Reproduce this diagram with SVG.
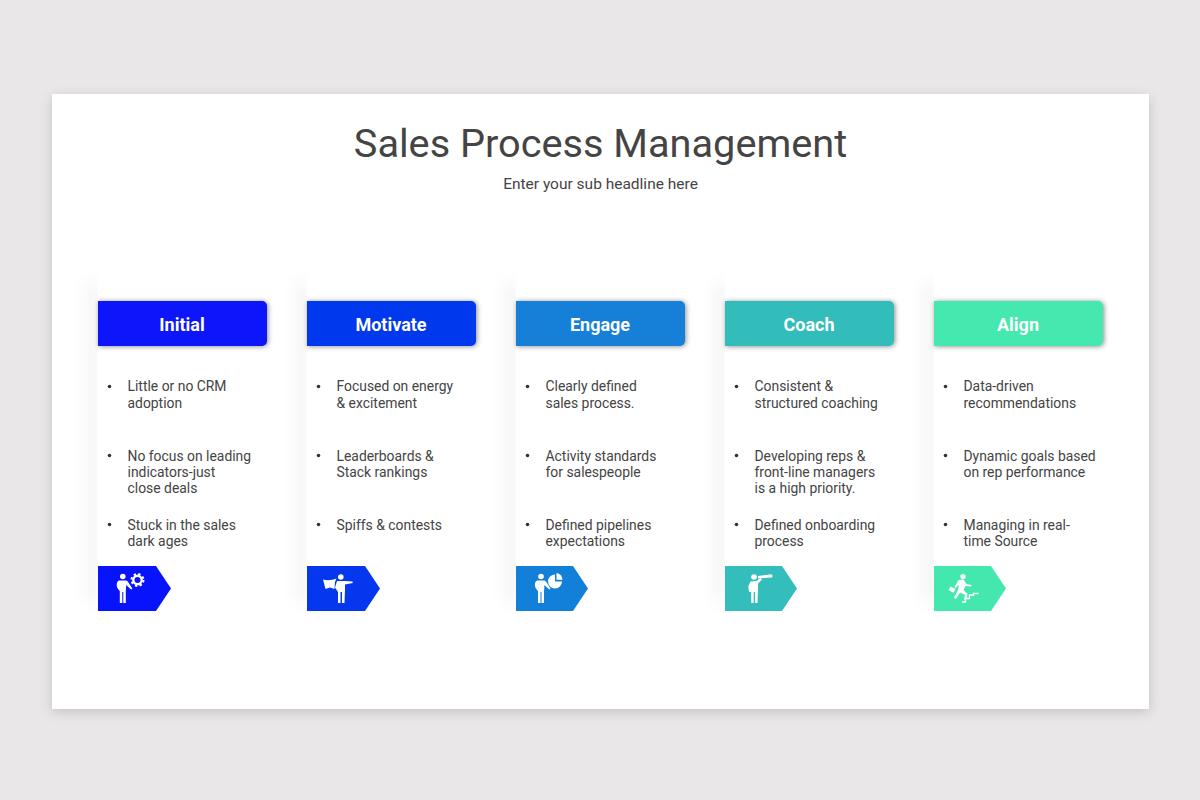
<svg xmlns="http://www.w3.org/2000/svg" xmlns:xlink="http://www.w3.org/1999/xlink" width="1200" height="800" viewBox="0 0 1200 800">
<defs>
<filter id="panelShadow" x="-5%" y="-5%" width="110%" height="112%"><feDropShadow dx="0" dy="3" stdDeviation="6" flood-color="#000" flood-opacity="0.16"/></filter>
<filter id="fade" x="-20%" y="-10%" width="140%" height="120%"><feGaussianBlur stdDeviation="3 8"/></filter>
<filter id="headShadow" x="-10%" y="-30%" width="120%" height="160%"><feDropShadow dx="1" dy="0.500" stdDeviation="2.800" flood-color="#000" flood-opacity="0.45"/></filter>
<linearGradient id="sideShade" x1="0" x2="1" y1="0" y2="0"><stop offset="0" stop-color="#000" stop-opacity="0"/><stop offset="1" stop-color="#000" stop-opacity="0.04"/></linearGradient>
<style>
text{font-family:Roboto,"Liberation Sans",sans-serif;fill:#444}
.title{font-size:39.700px;text-anchor:middle}
.sub{font-size:15.500px;text-anchor:middle}
.head{font-size:18px;font-weight:700;fill:#fff;text-anchor:middle}
.b{font-size:13.900px}
.dot{fill:#333}
.ic{fill:#fff}
.shade{fill:url(#sideShade)}
</style>
<g id="person"><circle cx="0" cy="-11.500" r="2.800"/><path d="M-3.800-7.500H3.500L5-6.500 9.500 0.500 8.300 1.500 3.300-3V0L3 3V15H.5V4H-.5V15H-3V3C-5.500 1-6.500-2-6-4.500-5.800-6-5-7-3.800-7.500Z"/></g>
</defs>
<rect width="1200" height="800" fill="#e9e7e8"/>
<rect x="52" y="94" width="1097" height="615" fill="#fff" filter="url(#panelShadow)"/>
<text class="title" x="600.500" y="156.500">Sales Process Management</text>
<text class="sub" x="600.500" y="189">Enter your sub headline here</text>

<g id="col-initial">
<rect class="shade" x="76" y="282" width="22" height="320" filter="url(#fade)"/>
<rect x="98" y="270" width="180" height="345" fill="#fff"/>
<path d="M98 301H262a5 5 0 0 1 5 5V341a5 5 0 0 1-5 5H98Z" fill="#0713fb" filter="url(#headShadow)"/>
<text class="head" x="182" y="331">Initial</text>
<circle class="dot" cx="109.500" cy="386.500" r="1.800"/><text class="b" x="127.500" y="391.300">Little or no CRM</text><text class="b" x="127.500" y="408">adoption</text>
<circle class="dot" cx="109.500" cy="455.500" r="1.800"/><text class="b" x="127.500" y="461">No focus on leading</text><text class="b" x="127.500" y="477.300">indicators-just</text><text class="b" x="127.500" y="493.300">close deals</text>
<circle class="dot" cx="109.500" cy="524.500" r="1.800"/><text class="b" x="127.500" y="530">Stuck in the sales</text><text class="b" x="127.500" y="546.300">dark ages</text>
<path d="M98 566H156L171 588.500 156 611H98Z" fill="#0713fb"/>
<g class="ic"><use xlink:href="#person" href="#person" x="122.800" y="588"/>
<circle cx="137.500" cy="580" r="4.200" fill="none" stroke="#fff" stroke-width="2.400"/><circle cx="137.500" cy="580" r="6" fill="none" stroke="#fff" stroke-width="2" stroke-dasharray="2.360 2.360"/></g>
</g>

<g id="col-motivate">
<rect class="shade" x="285" y="282" width="22" height="320" filter="url(#fade)"/>
<rect x="307" y="270" width="180" height="345" fill="#fff"/>
<path d="M307 301H471a5 5 0 0 1 5 5V341a5 5 0 0 1-5 5H307Z" fill="#0538ee" filter="url(#headShadow)"/>
<text class="head" x="391" y="331">Motivate</text>
<circle class="dot" cx="318.500" cy="386.500" r="1.800"/><text class="b" x="336.500" y="391.300">Focused on energy</text><text class="b" x="336.500" y="408">&amp; excitement</text>
<circle class="dot" cx="318.500" cy="455.500" r="1.800"/><text class="b" x="336.500" y="461">Leaderboards &amp;</text><text class="b" x="336.500" y="477.300">Stack rankings</text>
<circle class="dot" cx="318.500" cy="524.500" r="1.800"/><text class="b" x="336.500" y="530">Spiffs &amp; contests</text>
<path d="M307 566H365L380 588.500 365 611H307Z" fill="#0538ee"/>
<g class="ic"><circle cx="340.800" cy="577" r="2.800"/><path d="M337 581H344.500L352.500 581.500 352.700 583 345 584.500V589L344.500 603H342V592H340.500V603H338V592L335 587.500Z"/><path d="M323 579.500C328 581 332 580 336.500 578.500L335 582 334.500 589 330 587.500 325.500 589Z"/></g>
</g>

<g id="col-engage">
<rect class="shade" x="494" y="282" width="22" height="320" filter="url(#fade)"/>
<rect x="516" y="270" width="180" height="345" fill="#fff"/>
<path d="M516 301H680a5 5 0 0 1 5 5V341a5 5 0 0 1-5 5H516Z" fill="#1280d8" filter="url(#headShadow)"/>
<text class="head" x="600" y="331">Engage</text>
<circle class="dot" cx="527.500" cy="386.500" r="1.800"/><text class="b" x="545.500" y="391.300">Clearly defined</text><text class="b" x="545.500" y="408">sales process.</text>
<circle class="dot" cx="527.500" cy="455.500" r="1.800"/><text class="b" x="545.500" y="461">Activity standards</text><text class="b" x="545.500" y="477.300">for salespeople</text>
<circle class="dot" cx="527.500" cy="524.500" r="1.800"/><text class="b" x="545.500" y="530">Defined pipelines</text><text class="b" x="545.500" y="546.300">expectations</text>
<path d="M516 566H573L588 588.500 573 611H516Z" fill="#1280d8"/>
<g class="ic"><use xlink:href="#person" href="#person" x="541" y="588"/>
<path d="M555 574.500A7 7 0 1 0 562 581.500H555Z"/><path d="M556.500 573A7 7 0 0 1 562.500 579.800H556.500Z"/></g>
</g>

<g id="col-coach">
<rect class="shade" x="703" y="282" width="22" height="320" filter="url(#fade)"/>
<rect x="725" y="270" width="180" height="345" fill="#fff"/>
<path d="M725 301H889a5 5 0 0 1 5 5V341a5 5 0 0 1-5 5H725Z" fill="#33bdbb" filter="url(#headShadow)"/>
<text class="head" x="809" y="331">Coach</text>
<circle class="dot" cx="736.500" cy="386.500" r="1.800"/><text class="b" x="754.500" y="391.300">Consistent &amp;</text><text class="b" x="754.500" y="408">structured coaching</text>
<circle class="dot" cx="736.500" cy="455.500" r="1.800"/><text class="b" x="754.500" y="461">Developing reps &amp;</text><text class="b" x="754.500" y="477.300">front-line managers</text><text class="b" x="754.500" y="493.300">is a high priority.</text>
<circle class="dot" cx="736.500" cy="524.500" r="1.800"/><text class="b" x="754.500" y="530">Defined onboarding</text><text class="b" x="754.500" y="546.300">process</text>
<path d="M725 566H782L797 588.500 782 611H725Z" fill="#33bdbb"/>
<g class="ic"><circle cx="754" cy="577" r="2.800"/><path d="M750.500 581.500L756.500 581 760.500 578 762 579.500 758 583.500V590L757.500 603H755V592H753.700V603H751.200V592H749L748.300 586Z"/><path d="M758 576L770 574.500V577.500L758 578.500Z"/><circle cx="770.800" cy="576" r="1.800"/></g>
</g>

<g id="col-align">
<rect class="shade" x="912" y="282" width="22" height="320" filter="url(#fade)"/>
<rect x="934" y="270" width="180" height="345" fill="#fff"/>
<path d="M934 301H1098a5 5 0 0 1 5 5V341a5 5 0 0 1-5 5H934Z" fill="#44e8ae" filter="url(#headShadow)"/>
<text class="head" x="1018" y="331">Align</text>
<circle class="dot" cx="945.500" cy="386.500" r="1.800"/><text class="b" x="963.500" y="391.300">Data-driven</text><text class="b" x="963.500" y="408">recommendations</text>
<circle class="dot" cx="945.500" cy="455.500" r="1.800"/><text class="b" x="963.500" y="461">Dynamic goals based</text><text class="b" x="963.500" y="477.300">on rep performance</text>
<circle class="dot" cx="945.500" cy="524.500" r="1.800"/><text class="b" x="963.500" y="530">Managing in real-</text><text class="b" x="963.500" y="546.300">time Source</text>
<path d="M934 566H991L1006 588.500 991 611H934Z" fill="#44e8ae"/>
<g class="ic"><circle cx="963" cy="576.500" r="2.600"/><path d="M958.500 580L963.500 579.500 966.500 584 971.500 585 971 586.500 965.500 586 963.500 590 967.500 594 966 600 964 599.500 965 595 960 592.500 956 599 954 597.500 958 590 959 584.500 955.500 588 954.500 587Z"/><path d="M950.500 586.500L955.500 589 953.500 592.800 948.500 590Z"/><path d="M962 602H965.500V598.500H969.500V595H973.500V593.500H978.500" fill="none" stroke="#fff" stroke-width="1.300"/></g>
</g>
</svg>
